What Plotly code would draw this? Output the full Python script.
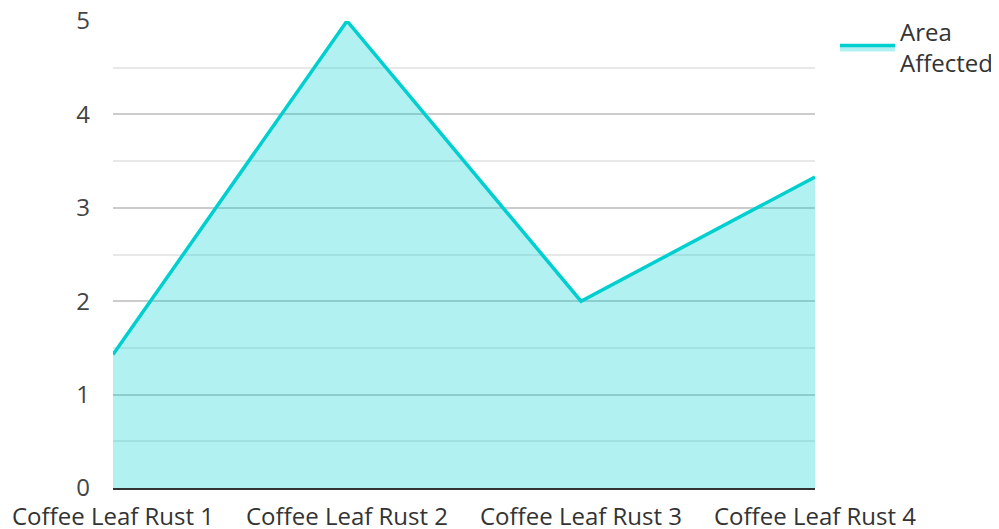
import plotly.graph_objects as go

categories = ["Coffee Leaf Rust 1", "Coffee Leaf Rust 2", "Coffee Leaf Rust 3", "Coffee Leaf Rust 4"]
area_affected = [1.43, 5, 2, 3.33]
series_name = "Area<br>Affected"

fig = go.Figure()
fig.add_trace(go.Scatter(
    x=categories, y=area_affected, name=series_name,
    mode="lines", fill="tozeroy",
    line=dict(color="#00cfd0", width=3.5),
    fillcolor="rgba(0,207,208,0.30)",
))

fig.update_layout(
    width=991, height=521,
    margin=dict(l=105, r=184, t=13, b=41, autoexpand=False),
    paper_bgcolor="white", plot_bgcolor="white",
    font=dict(family="Open Sans", size=24, color="#444444"),
    showlegend=True,
    legend=dict(x=1.0285, y=1.024, xanchor="left", yanchor="top",
                font=dict(size=24, color="#333333"), tracegroupgap=0,
                itemwidth=55),
    xaxis=dict(type="category", range=[0, 3], showgrid=False, automargin=False,
               showline=True, linecolor="#333333", linewidth=2,
               ticks="", ticklabelstandoff=6, ticklabeloverflow="allow",
               tickfont=dict(size=24, color="#333333"), zeroline=False),
    yaxis=dict(range=[0, 5], dtick=1, showgrid=True, gridcolor="#cccccc", gridwidth=1.5,
               automargin=False, ticklabeloverflow="allow",
               minor=dict(dtick=0.5, showgrid=True, gridcolor="#e8e8e8", gridwidth=1.5),
               zeroline=False, showline=False, ticks="", ticklabelstandoff=22,
               tickfont=dict(size=24, color="#444444")),
)

fig.write_html("out.html")
